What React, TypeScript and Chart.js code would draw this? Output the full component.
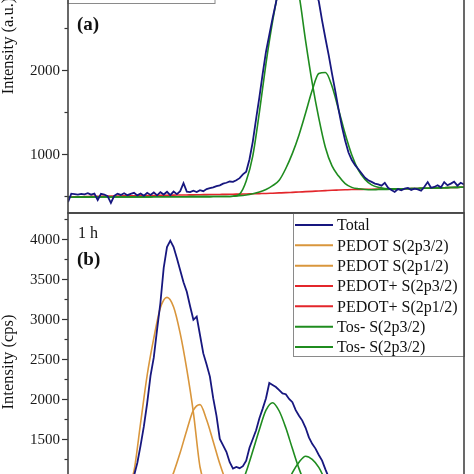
import React, { useEffect, useRef } from 'react';
import { Chart, registerables } from 'chart.js';

Chart.register(...registerables);

const SERIF = '"Liberation Serif", "Times New Roman", Times, serif';
const NAVY = '#17177f';
const ORANGE = '#d9963c';
const RED = '#e3262b';
const GREEN = '#1f8c1f';
const FRAME = '#444444';

// Binding energy grids (eV): fine grid for the measured spectra, coarser grid for fitted components
const energyFine = Array.from({ length: 121 }, (_, i) => 160 + i * 0.125);
const energyFit = Array.from({ length: 61 }, (_, i) => 160 + i * 0.25);

// Panel (a)
const totalA = [
  430, 530, 525, 520, 528, 522, 535, 518, 530, 455,
  528, 520, 500, 420, 505, 530, 515, 535, 512, 528,
  540, 510, 532, 505, 540, 515, 545, 510, 548, 520,
  552, 512, 555, 525, 560, 655, 555, 548, 565, 550,
  572, 560, 585, 595, 605, 620, 630, 650, 660, 675,
  670, 690, 715, 760, 790, 940, 1150, 1420, 1680, 1960,
  2220, 2420, 2620, 2800, 3000, 3180, 3330, 3440, 3510, 3530,
  3500, 3400, 3280, 3160, 3050, 2940, 2820, 2590, 2380, 2180,
  1960, 1750, 1530, 1330, 1160, 1020, 930, 870, 820, 770,
  720, 690, 670, 650, 640, 625, 660, 600, 575, 550,
  585, 570, 590, 598, 575, 590, 580, 565, 612, 668,
  600, 610, 630, 605, 668, 630, 650, 672, 625, 660,
  640,
];
const tos32A = [
  488, 488, 489, 489, 490, 490, 490, 491, 491, 491,
  492, 492, 492, 493, 493, 493, 494, 494, 494, 495,
  495, 495, 496, 496, 497, 500, 525, 680, 980, 1500,
  2080, 2580, 2990, 3240, 3220, 2900, 2350, 1850, 1430, 1080,
  860, 740, 650, 605, 588, 580, 577, 579, 581, 583,
  586, 588, 590, 592, 594, 597, 599, 601, 603, 605,
  607,
];
const tos12A = [
  488, 488, 489, 489, 490, 490, 490, 491, 491, 491,
  492, 492, 492, 493, 493, 493, 494, 494, 494, 495,
  495, 495, 496, 496, 497, 500, 505, 515, 530, 550,
  580, 625, 690, 830, 1010, 1230, 1490, 1760, 1960, 1972,
  1810, 1530, 1240, 990, 810, 700, 635, 605, 592, 588,
  588, 589, 590, 592, 594, 597, 599, 601, 603, 605,
  607,
];
const pedotPlusA = [
  490, 492, 494, 496, 498, 500, 501, 502, 503, 504,
  506, 507, 508, 509, 510, 512, 513, 514, 515, 516,
  518, 519, 520, 521, 522, 524, 525, 527, 529, 531,
  533, 536, 539, 542, 546, 550, 554, 558, 562, 566,
  570, 573, 576, 579, 581, 582, 583, 584, 585, 586,
  587, 588, 590, 592, 594, 597, 599, 601, 603, 605,
  607,
];

// Panel (b): 1 h
const totalB = [
  640, 660, 630, 650, 670, 645, 660, 690, 670, 700,
  690, 720, 740, 730, 780, 810, 850, 890, 940, 990,
  1040, 1200, 1420, 1660, 1950, 2290, 2520, 2870, 3200, 3640,
  3900, 3980, 3900, 3760, 3610, 3460, 3340, 3160, 2990, 3030,
  2800, 2570, 2430, 2280, 2010, 1790, 1500, 1420, 1340, 1210,
  1130, 1150, 1135, 1160, 1230, 1390, 1500, 1610, 1760, 1880,
  2010, 2200, 2175, 2150, 2110, 2070, 2060, 2000, 1960, 1860,
  1790, 1730, 1640, 1520, 1440, 1380, 1300, 1230, 1120, 1020,
  950, 890, 850, 820, 800, 790, 770, 775, 760, 750,
  755, 740, 745, 735, 730, 740, 725, 730, 720, 725,
  715, 720, 710, 718, 712, 705, 715, 708, 700, 710,
  702, 698, 705, 700, 695, 702, 698, 692, 700, 695,
  690,
];
const pedot32B = [
  600, 600, 600, 600, 600, 600, 615, 640, 700, 830,
  1100, 1700, 2300, 2760, 3140, 3270, 3150, 2820, 2370, 1830,
  1150, 870, 720, 660, 630, 615, 610, 610, 610, 610,
  610, 610, 610, 610, 610, 610, 610, 610, 610, 610,
  610, 610, 610, 610, 610, 610, 610, 610, 610, 610,
  610, 610, 610, 610, 610, 610, 610, 610, 610, 610,
  610,
];
const pedot12B = [
  620, 620, 620, 620, 620, 620, 620, 620, 620, 620,
  620, 625, 640, 680, 760, 880, 1080, 1330, 1610, 1860,
  1930, 1740, 1470, 1190, 960, 800, 710, 665, 645, 635,
  630, 630, 630, 630, 630, 630, 630, 630, 630, 630,
  630, 630, 630, 630, 630, 630, 630, 630, 630, 630,
  630, 630, 630, 630, 630, 630, 630, 630, 630, 630,
  630,
];
const pedotPlus32B = [
  640, 640, 640, 640, 640, 640, 640, 640, 640, 640,
  640, 640, 640, 640, 640, 650, 670, 700, 740, 790,
  840, 870, 880, 865, 830, 785, 740, 705, 680, 665,
  655, 650, 650, 650, 650, 650, 650, 650, 650, 650,
  650, 650, 650, 650, 650, 650, 650, 650, 650, 650,
  650, 650, 650, 650, 650, 650, 650, 650, 650, 650,
  650,
];
const pedotPlus12B = [
  640, 640, 640, 640, 640, 640, 640, 640, 640, 640,
  640, 640, 640, 640, 640, 640, 640, 640, 640, 645,
  655, 670, 690, 715, 740, 760, 772, 770, 755, 730,
  705, 685, 670, 660, 655, 650, 650, 650, 650, 650,
  650, 650, 650, 650, 650, 650, 650, 650, 650, 650,
  650, 650, 650, 650, 650, 650, 650, 650, 650, 650,
  650,
];
const tosFirstB = [
  650, 650, 650, 650, 650, 650, 650, 650, 650, 650,
  650, 650, 650, 650, 650, 650, 650, 650, 650, 650,
  650, 650, 650, 665, 690, 740, 870, 1090, 1350, 1620,
  1860, 1954, 1850, 1640, 1380, 1130, 930, 800, 735, 705,
  695, 690, 690, 690, 690, 690, 690, 690, 690, 690,
  690, 690, 690, 690, 690, 690, 690, 690, 690, 690,
  690,
];
const tosSecondB = [
  690, 690, 690, 690, 690, 690, 690, 690, 690, 690,
  690, 690, 690, 690, 690, 690, 690, 690, 690, 690,
  690, 690, 690, 690, 690, 690, 690, 690, 690, 690,
  690, 720, 790, 900, 1080, 1210, 1285, 1245, 1145, 985,
  860, 780, 735, 712, 702, 700, 700, 700, 700, 700,
  700, 700, 700, 700, 700, 700, 700, 700, 700, 700,
  700,
];

const seriesLabelsB = [
  'Total',
  'PEDOT S(2p3/2)',
  'PEDOT S(2p1/2)',
  'PEDOT+ S(2p3/2)',
  'PEDOT+ S(2p1/2)',
  'Tos- S(2p3/2)',
  'Tos- S(2p3/2)',
];

const axisA = { min: 300, max: 4276, major: 1000, minor: 500 };
const axisB = { min: 600, max: 4325, major: 500, minor: 250 };

const pts = (xs: number[], ys: number[]) => ys.map((y, i) => ({ x: xs[i], y }));

const line = (label: string, xs: number[], ys: number[], color: string, width: number, smooth: boolean) => ({
  label,
  data: pts(xs, ys),
  borderColor: color,
  backgroundColor: color,
  borderWidth: width,
  pointRadius: 0,
  fill: false,
  tension: 0,
  cubicInterpolationMode: smooth ? 'monotone' : 'default',
});

const yScale = (axis: typeof axisA, title: string) => ({
  type: 'linear',
  min: axis.min,
  max: axis.max,
  afterFit: (s: any) => {
    s.width = 68;
  },
  grid: { display: false, drawTicks: false },
  border: { display: false },
  ticks: { display: false, stepSize: axis.minor },
  title: {
    display: true,
    text: title,
    color: '#111',
    padding: 0,
    font: { family: SERIF, size: 16.5, lineHeight: 1 },
  },
});

const xScale = { type: 'linear', min: 160, max: 175, display: false };

// Frame, outside axis ticks with their labels, and panel annotations
const makeDecor = (id: string, axis: typeof axisA, extra: (ctx: CanvasRenderingContext2D, a: any, chart: any) => void) => ({
  id,
  afterDraw(chart: any) {
    const { ctx, chartArea: a } = chart;
    const y = chart.scales.y;
    ctx.save();
    extra(ctx, a, chart);
    ctx.strokeStyle = '#333';
    ctx.lineWidth = 1.2;
    ctx.fillStyle = '#1a1a1a';
    ctx.font = `15px ${SERIF}`;
    ctx.textAlign = 'right';
    ctx.textBaseline = 'middle';
    const first = Math.ceil(y.min / axis.minor) * axis.minor;
    for (let v = first; v <= y.max; v += axis.minor) {
      const py = Math.round(y.getPixelForValue(v)) + 0.5;
      const major = v % axis.major === 0;
      const len = major ? 6 : 3.5;
      ctx.beginPath();
      ctx.moveTo(a.left - len, py);
      ctx.lineTo(a.left, py);
      ctx.stroke();
      if (major) ctx.fillText(String(v), a.left - 8, py + 1);
    }
    ctx.strokeStyle = FRAME;
    ctx.lineWidth = 1.6;
    ctx.strokeRect(a.left, a.top, a.right - a.left, a.bottom - a.top);
    ctx.restore();
  },
});

const decorA = makeDecor('decorA', axisA, (ctx, a) => {
  // legend box of this panel, lying above the visible window
  ctx.strokeStyle = '#8a8a8a';
  ctx.lineWidth = 1;
  ctx.strokeRect(a.left, a.top - 5, 147, a.bottom - 210 - (a.top - 5) + 0.5);
  ctx.fillStyle = '#111';
  ctx.textBaseline = 'middle';
  ctx.textAlign = 'left';
  ctx.font = `bold 19px ${SERIF}`;
  ctx.fillText('(a)', a.left + 9, a.bottom - 188);
});

const decorB = makeDecor('decorB', axisB, (ctx, a, chart) => {
  ctx.fillStyle = '#111';
  ctx.textBaseline = 'middle';
  ctx.textAlign = 'left';
  ctx.font = `16px ${SERIF}`;
  ctx.fillText('1 h', a.left + 10, a.top + 21);
  ctx.font = `bold 19px ${SERIF}`;
  ctx.fillText('(b)', a.left + 9, a.top + 47);

  // legend
  const boxLeft = a.right - 171;
  ctx.fillStyle = '#ffffff';
  ctx.fillRect(boxLeft, a.top, a.right - boxLeft, 143);
  ctx.strokeStyle = '#8a8a8a';
  ctx.lineWidth = 1;
  ctx.strokeRect(boxLeft + 0.5, a.top + 0.5, a.right - boxLeft, 143);
  ctx.font = `16px ${SERIF}`;
  chart.data.datasets.forEach((ds: any, i: number) => {
    const yy = a.top + 12 + i * 20.33;
    ctx.strokeStyle = ds.borderColor;
    ctx.lineWidth = 2;
    ctx.beginPath();
    ctx.moveTo(boxLeft + 2, yy);
    ctx.lineTo(boxLeft + 40, yy);
    ctx.stroke();
    ctx.fillStyle = '#111';
    ctx.fillText(ds.label, boxLeft + 44, yy + 1);
  });
});

const baseOptions = {
  responsive: false,
  maintainAspectRatio: false,
  animation: false,
  events: [],
  layout: { padding: { top: 10, bottom: 10, left: 0, right: 10 } },
  plugins: { legend: { display: false }, tooltip: { enabled: false } },
};

export default function App() {
  const topRef = useRef<HTMLCanvasElement>(null);
  const botRef = useRef<HTMLCanvasElement>(null);

  useEffect(() => {
    const top = new Chart(topRef.current as HTMLCanvasElement, {
      type: 'line',
      data: {
        datasets: [
          line('Total', energyFine, totalA, NAVY, 1.8, false),
          line('Tos- S(2p3/2)', energyFit, tos32A, GREEN, 1.6, true),
          line('Tos- S(2p1/2)', energyFit, tos12A, GREEN, 1.6, true),
          line('PEDOT+', energyFit, pedotPlusA, RED, 1.6, true),
        ],
      },
      options: { ...baseOptions, scales: { x: xScale, y: yScale(axisA, 'Intensity (a.u.)') } } as any,
      plugins: [decorA],
    } as any);

    const compB = [pedot32B, pedot12B, pedotPlus32B, pedotPlus12B, tosFirstB, tosSecondB];
    const colorsB = [ORANGE, ORANGE, RED, RED, GREEN, GREEN];
    const bot = new Chart(botRef.current as HTMLCanvasElement, {
      type: 'line',
      data: {
        datasets: [
          line(seriesLabelsB[0], energyFine, totalB, NAVY, 1.8, false),
          ...compB.map((vals, i) => line(seriesLabelsB[i + 1], energyFit, vals, colorsB[i], 1.6, true)),
        ],
      },
      options: { ...baseOptions, scales: { x: xScale, y: yScale(axisB, 'Intensity (cps)') } } as any,
      plugins: [decorB],
    } as any);

    return () => {
      top.destroy();
      bot.destroy();
    };
  }, []);

  return (
    <div
      style={{
        position: 'fixed',
        left: 0,
        top: 0,
        width: 474,
        height: 474,
        overflow: 'hidden',
        background: '#ffffff',
      }}
    >
      <canvas
        ref={topRef}
        width={474}
        height={354}
        style={{ position: 'absolute', left: 0, top: -131, width: 474, height: 354 }}
      />
      <canvas
        ref={botRef}
        width={474}
        height={318}
        style={{ position: 'absolute', left: 0, top: 203, width: 474, height: 318 }}
      />
    </div>
  );
}
